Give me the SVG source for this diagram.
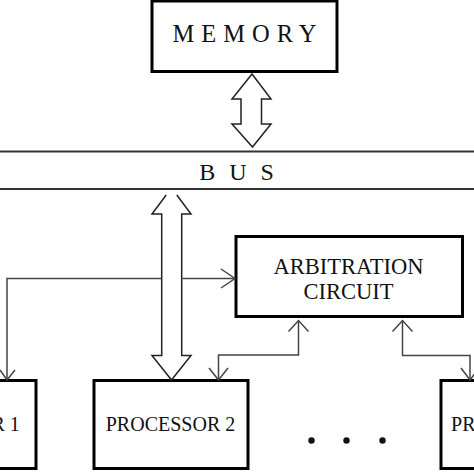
<svg xmlns="http://www.w3.org/2000/svg" width="474" height="474" viewBox="0 0 474 474">
<style>
.box{fill:#fff;stroke:#000;stroke-width:3}
.lbl{font-family:"Liberation Serif","Times New Roman",serif;fill:#111;text-anchor:middle}
.bus{stroke:#333;stroke-width:2;fill:none}
.fat{fill:#fff;stroke:#222;stroke-width:1.5;stroke-linejoin:miter}
.wire{fill:none;stroke:#444;stroke-width:1.5}
</style>
<rect width="474" height="474" fill="#fff"/>
<g id="memory">
<rect class="box" x="152" y="1" width="185" height="70.5"/>
<text class="lbl" x="248" y="42" font-size="24.5" letter-spacing="7">MEMORY</text>
</g>
<g id="bus">
<line class="bus" x1="0" y1="151.5" x2="474" y2="151.5"/>
<line class="bus" x1="0" y1="189" x2="474" y2="189"/>
<text class="lbl" x="243.5" y="180" font-size="24" letter-spacing="14">BUS</text>
</g>
<g id="arbitration">
<rect class="box" x="236" y="236.5" width="226.5" height="80"/>
<text class="lbl" x="348.5" y="273.5" font-size="22.5">ARBITRATION</text>
<text class="lbl" x="348.5" y="298.5" font-size="22.5">CIRCUIT</text>
</g>
<g id="processor1">
<rect class="box" x="-118" y="380.5" width="154" height="88"/>
<text class="lbl" x="-45" y="431" font-size="20">PROCESSOR 1</text>
</g>
<g id="processor2">
<rect class="box" x="94" y="380.5" width="154" height="88"/>
<text class="lbl" x="170.5" y="431" font-size="20">PROCESSOR 2</text>
</g>
<g id="processorN">
<rect class="box" x="441" y="380.5" width="154" height="88"/>
<text class="lbl" x="518" y="431" font-size="20">PROCESSOR N</text>
</g>
<g id="dots" fill="#111">
<circle cx="311.5" cy="440.5" r="3.2"/>
<circle cx="346.5" cy="440.5" r="3.2"/>
<circle cx="382.5" cy="440.5" r="3.2"/>
</g>
<g id="connectors">
<path class="fat" d="M252,74 L271,99 L261.5,99 L261.5,124 L271,124 L252.5,147 L232,124 L241,124 L241,99 L232,99 Z"/>
<path class="fat" d="M166.2,195 L152,214 L161.7,214 L161.7,355.5 L152,355.5 L171.5,380 L191,355.5 L181.7,355.5 L181.7,214 L191,214 L176.8,195"/>
<path class="wire" d="M235,278.5 L182.5,278.5 M161,278.5 L7,278.5 L7,380"/>
<path class="wire" d="M221,269 L235,278.5 L221,288"/>
<path class="wire" d="M0,370 L7,380 L15,370"/>
<path class="wire" d="M298.5,320.5 L298.5,355 L218.5,355 L218.5,380"/>
<path class="wire" d="M288.5,331.5 L298.5,320.5 L308.5,331.5"/>
<path class="wire" d="M209,368 L218.5,380 L228,368"/>
<path class="wire" d="M402.5,320.5 L402.5,355.5 L470,355.5 L470,380"/>
<path class="wire" d="M392.5,331.5 L402.5,320.5 L412.5,331.5"/>
<path class="wire" d="M461,368 L470,380 L479,368"/>
</g>
</svg>
